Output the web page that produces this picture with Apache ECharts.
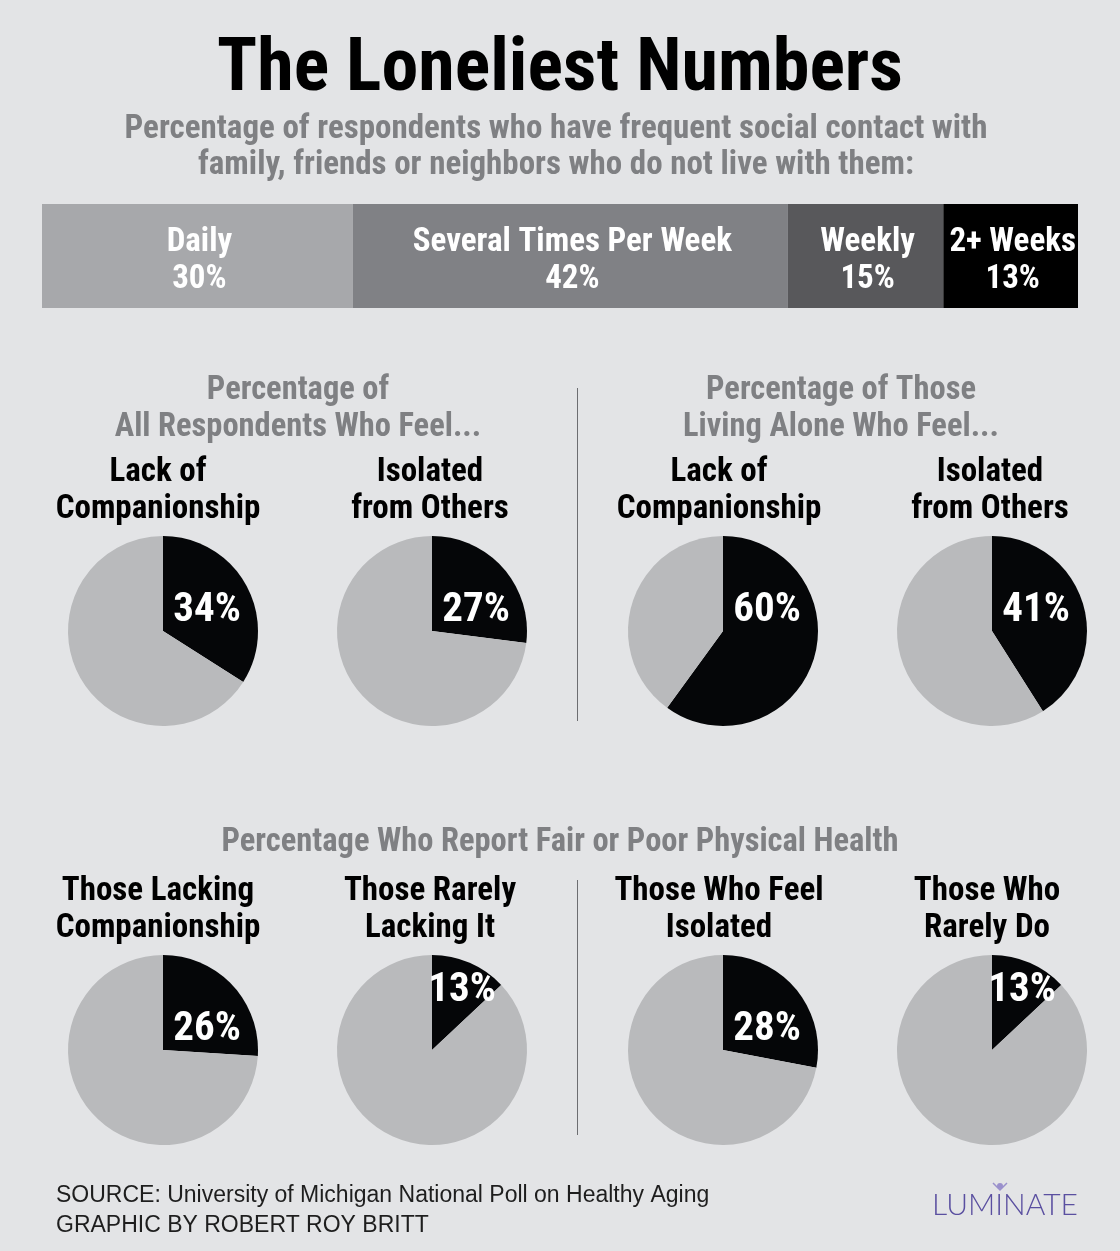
<!DOCTYPE html>
<html>
<head>
<meta charset="utf-8">
<script src="https://cdn.jsdelivr.net/npm/echarts@6/dist/echarts.min.js"></script>
<style>
  html, body { margin: 0; padding: 0; background: #e3e4e6; }
  #chart { width: 1120px; height: 1251px; }
</style>
</head>
<body>
<div id="chart"></div>
<script>
// social contact frequency (stacked bar)
var contactCats = ['Daily', 'Several Times Per Week', 'Weekly', '2+ Weeks'];
var contactValues = [30, 42, 15, 13];
var contactColors = ['#a7a8ab', '#808185', '#58585b', '#000000'];

// pies: share of respondents (black slice)
var pieTitles = [
	'Lack of\nCompanionship', 'Isolated\nfrom Others',
	'Lack of\nCompanionship', 'Isolated\nfrom Others',
	'Those Lacking\nCompanionship', 'Those Rarely\nLacking It',
	'Those Who Feel\nIsolated', 'Those Who\nRarely Do'
];
var pieValues = [34, 27, 60, 41, 26, 13, 28, 13];

var CONDENSED = '"Roboto Condensed", "Open Sans Condensed", sans-serif';
var GRAY_TXT = '#7f8083';

var pieCx = [163, 432, 723, 992, 163, 432, 723, 992];
var pieCy = [631, 631, 631, 631, 1050, 1050, 1050, 1050];
var titleX = [158, 430, 719, 990, 158, 430, 719, 987];
var titleY = [454, 454, 454, 454, 873, 873, 873, 873];

function heading(text, x, y, size) {
	return {
		text: text, left: x, top: y, textAlign: 'center', padding: 0,
		textStyle: { fontFamily: CONDENSED, fontSize: size, fontWeight: 'bold', color: GRAY_TXT, lineHeight: 37 }
	};
}

var titles = [
	{
		text: 'The Loneliest Numbers', left: 560, top: 31, textAlign: 'center', padding: 0,
		textStyle: { fontFamily: CONDENSED, fontSize: 74, fontWeight: 'bold', color: '#000', lineHeight: 80 }
	},
	{
		text: 'Percentage of respondents who have frequent social contact with\nfamily, friends or neighbors who do not live with them:',
		left: 556, top: 112, textAlign: 'center', padding: 0,
		textStyle: { fontFamily: CONDENSED, fontSize: 33, fontWeight: 'bold', color: GRAY_TXT, lineHeight: 36 }
	},
	heading('Percentage of\nAll Respondents Who Feel...', 298, 372, 32.5),
	heading('Percentage of Those\nLiving Alone Who Feel...', 841, 372, 32.5),
	heading('Percentage Who Report Fair or Poor Physical Health', 560, 824, 32.5),
	{
		text: 'SOURCE: University of Michigan National Poll on Healthy Aging\nGRAPHIC BY ROBERT ROY BRITT',
		left: 56, top: 1181, padding: 0,
		textStyle: { fontFamily: '"Liberation Sans", Arial, sans-serif', fontSize: 23, fontWeight: 'normal', color: '#1e1e1e', lineHeight: 30 }
	},
	{
		text: 'LUMINATE', left: 1078, top: 1189, textAlign: 'right', padding: 0,
		textStyle: { fontFamily: 'Lato, "Open Sans", sans-serif', fontSize: 30, fontWeight: 300, color: '#5a4fa0', lineHeight: 32 }
	}
];

for (var i = 0; i < pieTitles.length; i++) {
	titles.push({
		text: pieTitles[i], left: titleX[i], top: titleY[i], textAlign: 'center', padding: 0,
		textStyle: { fontFamily: CONDENSED, fontSize: 33, fontWeight: 'bold', color: '#000', lineHeight: 37 }
	});
}

var series = [];

for (var k = 0; k < contactCats.length; k++) {
	series.push({
		name: contactCats[k],
		type: 'bar',
		stack: 'contact',
		barWidth: '100%',
		silent: true,
		data: [contactValues[k]],
		itemStyle: { color: contactColors[k] },
		label: {
			show: true,
			position: 'inside',
			offset: [2, 5],
			formatter: '{a}\n{c}%',
			color: '#fff',
			fontFamily: CONDENSED,
			fontSize: 33,
			fontWeight: 'bold',
			lineHeight: 37
		}
	});
}

function makeLayout(idx) {
	return function(params) {
		if (params.dataIndex !== 0) return {};
		var small = pieValues[idx] < 20;
		return {
			x: pieCx[idx] + (small ? 30 : 44),
			y: pieCy[idx] + (small ? -59 : -20),
			align: 'center',
			verticalAlign: 'middle'
		};
	};
}

for (var p = 0; p < pieValues.length; p++) {
	series.push({
		type: 'pie',
		center: [pieCx[p], pieCy[p]],
		radius: [0, 95],
		startAngle: 90,
		clockwise: true,
		silent: true,
		animation: false,
		labelLine: { show: false },
		labelLayout: makeLayout(p),
		data: [
			{
				value: pieValues[p],
				itemStyle: { color: '#050608' },
				label: {
					show: true,
					position: 'inside',
					formatter: '{c}%',
					color: '#fff',
					fontFamily: CONDENSED,
					fontSize: 41,
					fontWeight: 'bold'
				}
			},
			{
				value: 100 - pieValues[p],
				itemStyle: { color: '#b9babc' },
				label: { show: false }
			}
		]
	});
}

var myChart = echarts.init(document.getElementById('chart'), null, { renderer: 'canvas' });
myChart.setOption({
	backgroundColor: '#e3e4e6',
	animation: false,
	title: titles,
	grid: { left: 42, right: 42, top: 204, height: 104 },
	xAxis: { type: 'value', min: 0, max: 100, show: false },
	yAxis: { type: 'category', data: [''], show: false },
	graphic: [
		{ type: 'line', shape: { x1: 577.5, y1: 388, x2: 577.5, y2: 721 }, style: { stroke: '#6d6e71', lineWidth: 1 } },
		{ type: 'line', shape: { x1: 577.5, y1: 880, x2: 577.5, y2: 1135 }, style: { stroke: '#6d6e71', lineWidth: 1 } },
		// small figure above the logo's "I"
		{ type: 'circle', shape: { cx: 1000, cy: 1186, r: 3 }, style: { fill: '#9a90cc' } },
		{ type: 'polyline', shape: { points: [[993, 1183], [1000, 1190], [1007, 1183]] }, style: { stroke: '#9a90cc', lineWidth: 1.5, fill: null } }
	],
	series: series
});
</script>
</body>
</html>
